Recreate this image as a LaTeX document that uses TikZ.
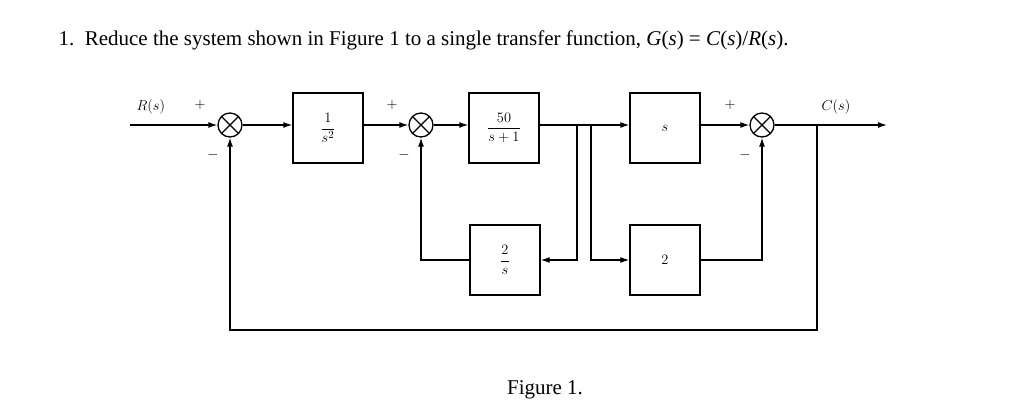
\documentclass[tikz,border=0pt]{standalone}
\usepackage{amsmath}
\usepackage{fontspec}
\setmainfont{Liberation Serif}
\usetikzlibrary{arrows.meta}
\begin{document}
\begin{tikzpicture}[x=1pt,y=-1pt,
  blk/.style={draw,line width=1.3pt,minimum width=70pt,minimum height=70pt,inner sep=0pt,font=\fontsize{15}{17}\selectfont},
  sum/.style={draw,line width=1.3pt,circle,minimum size=24pt,inner sep=0pt,path picture={\draw[line width=1.3pt] (path picture bounding box.south west)--(path picture bounding box.north east) (path picture bounding box.north west)--(path picture bounding box.south east);}},
  w/.style={line width=1.3pt},
  a/.style={w,-{Latex[length=9pt,width=6pt]}},
  lb/.style={font=\fontsize{15}{17}\selectfont}]
\useasboundingbox (0,0) rectangle (1024,416);
\node[anchor=base west,font=\fontsize{21}{24}\selectfont] (t) at (55,45) {1.\ \ Reduce the system shown in Figure 1 to a single transfer function, \textit{G}(\textit{s}) = \textit{C}(\textit{s})/\textit{R}(\textit{s}).};
\node[font=\fontsize{21}{24}\selectfont] (f) at (545,390) {Figure 1.};
\node[sum] (s1) at (230,125) {};
\node[sum] (s2) at (421,125) {};
\node[sum] (s3) at (762,125) {};
\node[blk] (b1) at (328,128) {$\dfrac{1}{s^2}$};
\node[blk] (b2) at (504,128) {$\dfrac{50}{s+1}$};
\node[blk] (b3) at (665,128) {$s$};
\node[blk] (b4) at (505,260) {$\dfrac{2}{s}$};
\node[blk] (b5) at (665,260) {$2$};
\coordinate (in) at (130,125);
\coordinate (out) at (887,125);
\coordinate (p1) at (577,125);
\coordinate (p2) at (591,125);
\coordinate (p3) at (817,125);
\coordinate (bot) at (817,330);
\node[lb,anchor=south west] at (133,118) {$R(s)$};
\node[lb,anchor=south west] at (818,118) {$C(s)$};
\node[lb] at (200,105) {$+$};
\node[lb] at (392,105) {$+$};
\node[lb] at (730,105) {$+$};
\node[lb] at (213,155) {$-$};
\node[lb] at (404,155) {$-$};
\node[lb] at (745,155) {$-$};
\draw[a] (in) -- (s1);
\draw[a] (s1) -- (b1.west|-s1);
\draw[a] (b1.east|-s2) -- (s2);
\draw[a] (s2) -- (b2.west|-s2);
\draw[w] (b2.east|-s2) -- (p2);
\draw[a] (p2) -- (b3.west|-s2);
\draw[a] (b3.east|-s3) -- (s3);
\draw[a] (s3) -- (out);
\draw[a] (p1) |- (b4.east);
\draw[a] (p2) |- (b5.west);
\draw[a] (b4.west) -| (s2.south);
\draw[a] (b5.east) -| (s3.south);
\draw[a] (p3) -- (bot) -| (s1.south);
\end{tikzpicture}
\end{document}
